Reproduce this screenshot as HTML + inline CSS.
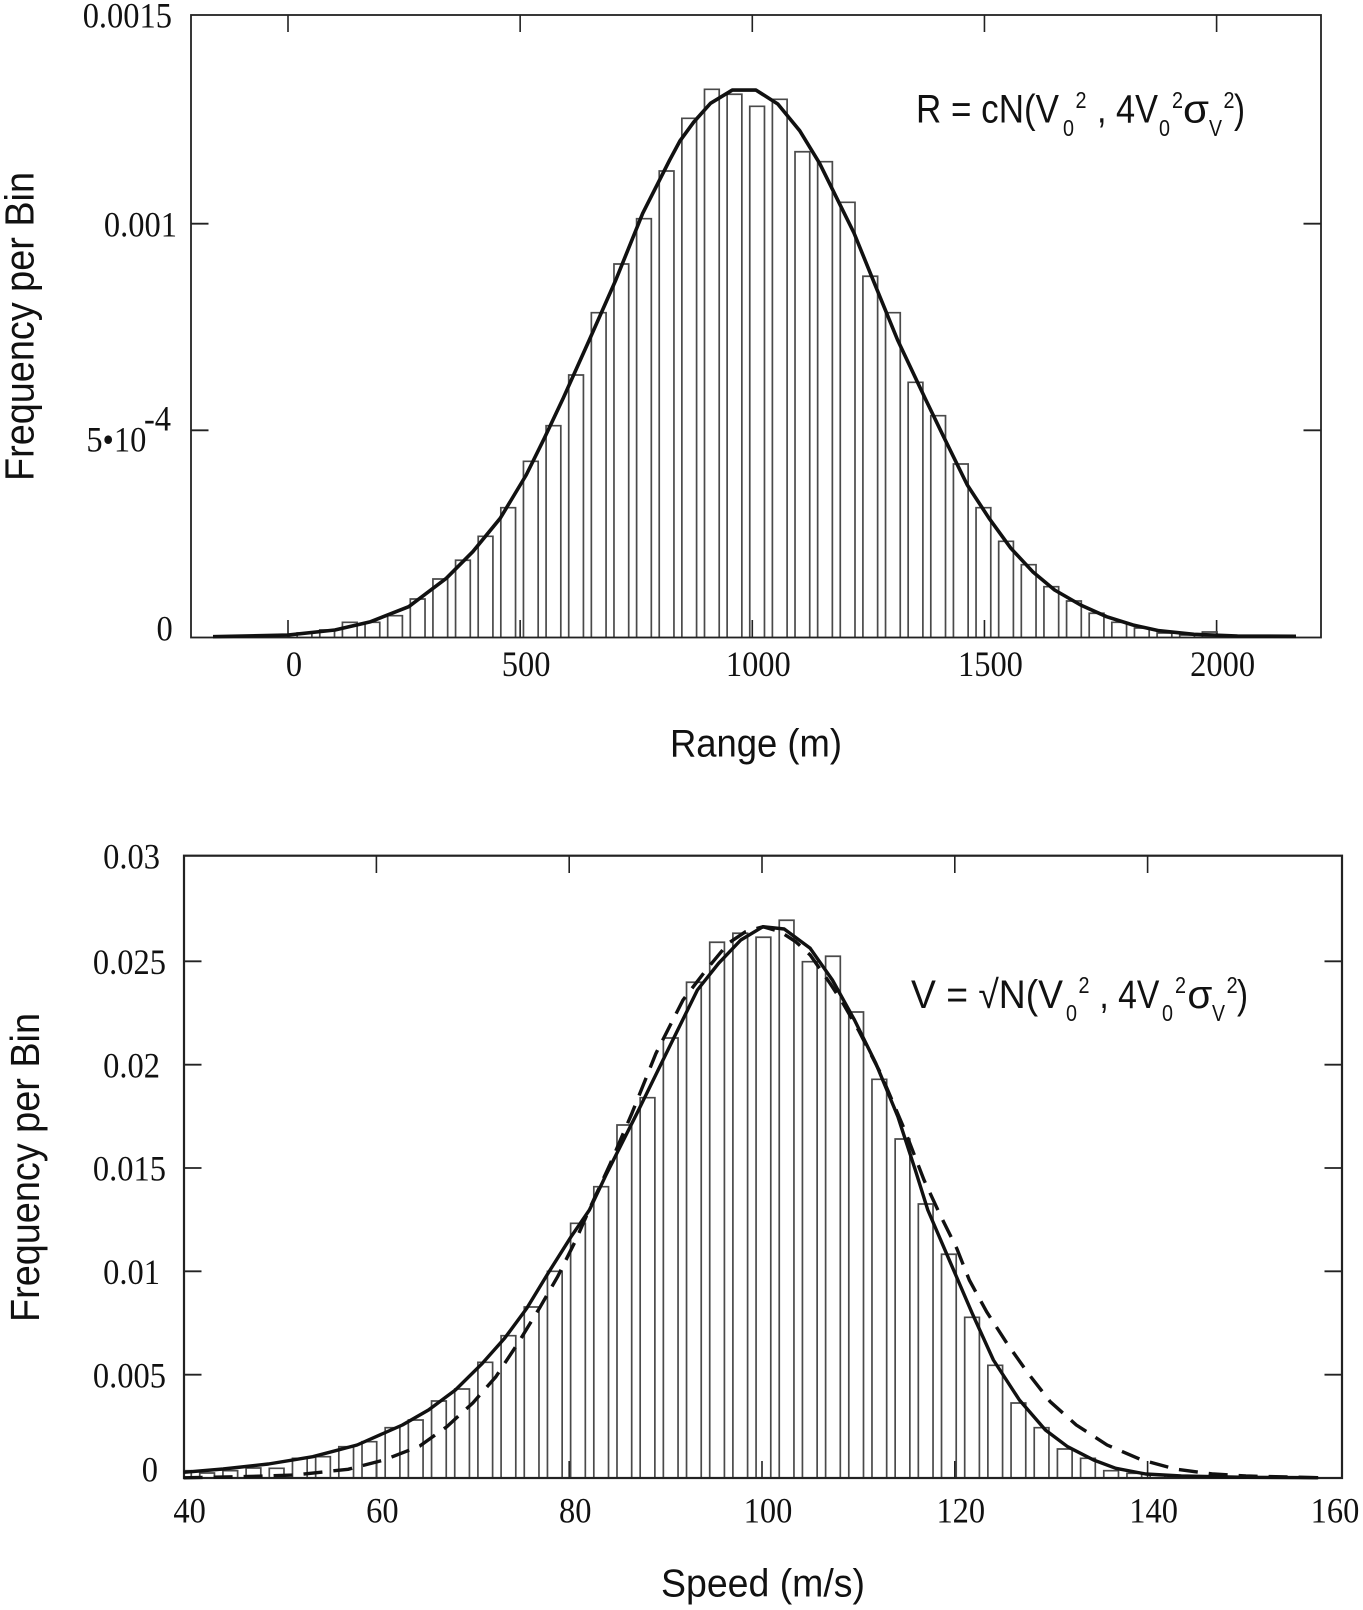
<!DOCTYPE html>
<html lang="en">
<head>
<meta charset="utf-8">
<title>Range and speed frequency histograms</title>
<style>
  html, body { margin: 0; padding: 0; background: #fff; }
  svg { display: block; }
  .tick-label { font-family: "Liberation Serif", serif; font-size: 35.5px; fill: #111; }
  .axis-title { font-family: "Liberation Sans", sans-serif; fill: #111; }
  .eq { font-family: "Liberation Sans", sans-serif; fill: #111; font-size: 39.5px; }
  .eq-small { font-family: "Liberation Sans", sans-serif; fill: #111; font-size: 23px; }
</style>
</head>
<body>
<svg id="figure" xmlns="http://www.w3.org/2000/svg" width="1363" height="1610" viewBox="0 0 1363 1610">
  <rect x="0" y="0" width="1363" height="1610" fill="#fff"/>
  <defs>
    <clipPath id="clip-range"><rect x="191" y="15" width="1130" height="622.5"/></clipPath>
    <clipPath id="clip-speed"><rect x="184" y="855.7" width="1158" height="622.5"/></clipPath>
  </defs>
  <g id="range-panel"></g>
  <g id="speed-panel"></g>

  <text class="axis-title" transform="translate(33.5 481) rotate(-90)" font-size="41" textLength="309" lengthAdjust="spacingAndGlyphs">Frequency per Bin</text>
  <text class="axis-title" x="670" y="756.7" font-size="38.5" textLength="172" lengthAdjust="spacingAndGlyphs">Range (m)</text>
  <text class="axis-title" transform="translate(39 1322) rotate(-90)" font-size="41" textLength="309" lengthAdjust="spacingAndGlyphs">Frequency per Bin</text>
  <text class="axis-title" x="661" y="1596.7" font-size="38.5" textLength="204" lengthAdjust="spacingAndGlyphs">Speed (m/s)</text>

  <g>
    <text class="eq" x="916" y="122.7" textLength="143" lengthAdjust="spacingAndGlyphs">R = cN(V</text>
    <text class="eq-small" x="1063" y="136" textLength="11" lengthAdjust="spacingAndGlyphs">0</text>
    <text class="eq-small" x="1075.5" y="108" textLength="11" lengthAdjust="spacingAndGlyphs">2</text>
    <text class="eq" x="1097" y="122.7" textLength="61" lengthAdjust="spacingAndGlyphs">, 4V</text>
    <text class="eq-small" x="1159" y="136" textLength="11" lengthAdjust="spacingAndGlyphs">0</text>
    <text class="eq-small" x="1172" y="108" textLength="11" lengthAdjust="spacingAndGlyphs">2</text>
    <text class="eq" x="1183" y="122.7" textLength="26" lengthAdjust="spacingAndGlyphs">σ</text>
    <text class="eq-small" x="1209" y="136" textLength="13" lengthAdjust="spacingAndGlyphs">V</text>
    <text class="eq-small" x="1223.5" y="108" textLength="11" lengthAdjust="spacingAndGlyphs">2</text>
    <text class="eq" x="1234" y="122.7" textLength="11" lengthAdjust="spacingAndGlyphs">)</text>
  </g>

  <g>
    <text class="eq" x="911" y="1008" textLength="152" lengthAdjust="spacingAndGlyphs">V = √N(V</text>
    <text class="eq-small" x="1066" y="1021" textLength="11" lengthAdjust="spacingAndGlyphs">0</text>
    <text class="eq-small" x="1078.5" y="993" textLength="11" lengthAdjust="spacingAndGlyphs">2</text>
    <text class="eq" x="1099.4" y="1008" textLength="60" lengthAdjust="spacingAndGlyphs">, 4V</text>
    <text class="eq-small" x="1162" y="1021" textLength="11" lengthAdjust="spacingAndGlyphs">0</text>
    <text class="eq-small" x="1175" y="993" textLength="11" lengthAdjust="spacingAndGlyphs">2</text>
    <text class="eq" x="1187.4" y="1008" textLength="25" lengthAdjust="spacingAndGlyphs">σ</text>
    <text class="eq-small" x="1212" y="1021" textLength="13" lengthAdjust="spacingAndGlyphs">V</text>
    <text class="eq-small" x="1226.6" y="993" textLength="11" lengthAdjust="spacingAndGlyphs">2</text>
    <text class="eq" x="1237" y="1008" textLength="11" lengthAdjust="spacingAndGlyphs">)</text>
  </g>
</svg>

<script>
// ---- Range chart data (frequency values in units of 1e-4 per bin) ----
const rangeBinFirst = -126.5;
const rangeBinStep = 48.74;
const rangeBinWidth = 31.7;
const rangeHist = [0.012,0.024,0.048,0.096,0.169,0.354,0.354,0.514,0.916,1.399,1.850,2.428,3.118,4.237,5.096,6.318,7.821,8.995,10.088,11.238,12.509,13.208,13.088,12.798,12.967,11.703,11.462,10.483,8.699,7.821,6.142,5.337,4.172,3.118,2.308,1.744,1.213,0.868,0.572,0.354,0.217,0.096,0.048,0.121,0.024,0.012];
const rangeCurveX = [-161.5,0,101,178,260,341,398,457,513,552,593,649,706,764,822,844,874,910,957,1008,1055,1102,1145,1191,1219,1266,1313,1374,1412,1463,1510,1557,1604,1651,1707,1763,1820,1876,1951,2045,2171];
const rangeCurveY = [0.007,0.048,0.169,0.369,0.731,1.416,2.057,2.863,3.907,4.792,5.764,7.162,8.609,10.218,11.503,11.962,12.42,12.87,13.19,13.19,12.854,12.21,11.424,10.377,9.743,8.448,7.162,5.715,4.831,3.666,2.863,2.139,1.575,1.133,0.772,0.49,0.289,0.152,0.065,0.024,0.017];
const rangeXTicks = [0,500,1000,1500,2000];
const rangeXTickLabels = ["0","500","1000","1500","2000"];
const rangeYTicks = [0,5,10,15];
const rangeYTickLabels = ["0","5•10","0.001","0.0015"];

// ---- Speed chart data (frequency values in units of 1e-3 per bin) ----
const speedBinFirst = 39.27;
const speedBinStep = 2.4046;
const speedBinWidth = 1.525;
const speedHist = [0.352,0.241,0.352,0.482,0.468,0.950,1.027,1.509,1.750,2.425,2.796,3.712,4.291,5.578,6.860,8.244,9.965,12.279,14.044,17.018,18.334,21.212,23.898,25.826,26.26,26.067,26.887,24.891,25.151,22.466,19.221,16.343,13.21,10.785,7.747,5.433,3.616,2.425,1.398,0.950,0.352,0.227,0.145,0.063,0.048,0.03];
const speedSolidX = [40,44.1,48.8,53.4,58.0,62.7,65.4,68.2,71.0,73.3,75.6,77.9,80.2,82.1,83.9,87.2,90.4,93.3,95.5,97.8,100.1,102.3,105.0,107.3,109.6,111.8,114.1,115.9,117.2,119.5,121.8,124.0,126.7,129.4,131.7,134.4,136.7,139.8,143.5,150.2,157.7];
const speedSolidY = [0.275,0.434,0.675,1.027,1.591,2.555,3.278,4.242,5.53,6.735,8.181,9.946,11.633,12.92,14.69,17.741,20.793,23.527,24.814,25.937,26.578,26.467,25.537,24.009,22.08,19.993,17.418,14.849,12.92,10.428,7.94,5.689,3.76,2.314,1.509,0.868,0.468,0.193,0.096,0.034,0.014];
const speedDashedX = [40,46,51.5,57.05,60.8,64.5,67.3,70.0,72.4,74.7,77.0,78.8,80.7,82.05,84.2,86.5,89.0,91.8,94.2,96.5,98.3,100.1,101.9,103.5,105.0,107.05,108.4,110.0,112.3,114.8,116.8,118.4,120.2,121.5,123.3,125.4,127.6,129.9,132.6,135.8,139.4,143.0,146.8,150.2,157.7];
const speedDashedY = [0.01,0.063,0.145,0.419,0.868,1.543,2.473,3.616,4.884,6.508,8.258,9.705,11.474,12.92,15.09,17.582,20.475,23.044,24.491,25.778,26.337,26.578,26.337,25.855,25.214,23.849,22.885,21.598,19.511,16.777,14.367,12.761,11.074,9.546,8.017,6.494,5.048,3.678,2.555,1.591,0.868,0.419,0.193,0.096,0.014];
const speedXTicks = [40,60,80,100,120,140,160];
const speedXTickLabels = ["40","60","80","100","120","140","160"];
const speedYTicks = [0,5,10,15,20,25,30];
const speedYTickLabels = ["0","0.005","0.01","0.015","0.02","0.025","0.03"];

// ---- Axis functions ----
const rangeX = v => 288 + v * 0.4643;
const rangeY = v => 637 - v / 15 * 622;
const rangeTickY = v => 637 - v / 15 * 620;
const speedX = v => 183.6 + (v - 40) * 9.64;
const speedY = v => 1478 - v / 30 * 622.3;
const speedTickY = v => 1478 - v / 30 * 620;

const NS = 'http://www.w3.org/2000/svg';
function make(parent, tag) {
  const el = document.createElementNS(NS, tag);
  parent.appendChild(el);
  return el;
}
function line(parent, name, x1, y1, x2, y2, w, color) {
  const el = make(parent, 'line');
  
  
  el.setAttribute('x1', x1);
  el.setAttribute('y1', y1);
  el.setAttribute('x2', x2);
  el.setAttribute('y2', y2);
  el.setAttribute('stroke', color);
  el.setAttribute('stroke-width', w);
  return el;
}
function label(parent, name, str, x, y, anchor) {
  const el = make(parent, 'text');
  
  
  el.setAttribute('class', 'tick-label');
  el.setAttribute('transform', 'translate(' + x + ' ' + y + ') scale(0.915 1)');
  el.setAttribute('text-anchor', anchor);
  el.textContent = str;
  return el;
}
function bars(parent, prefix, values, first, step, width, sx, sy, clip) {
  const g = make(parent, 'g');
  
  
  g.setAttribute('clip-path', 'url(#' + clip + ')');
  values.forEach((v, i) => {
    const left = sx(first + i * step);
    const right = sx(first + i * step + width);
    const el = make(g, 'path');
    
    
    el.setAttribute('d', 'M' + left + ' ' + sy(0) + 'V' + sy(v) + 'H' + right + 'V' + sy(0));
    el.setAttribute('fill', 'none');
    el.setAttribute('stroke', '#4a4a4a');
    el.setAttribute('stroke-width', '1.7');
  });
  return g;
}
function curve(parent, name, xs, ys, sx, sy, w, dash) {
  const el = make(parent, 'path');
  
  
  el.setAttribute('d', xs.map((x, i) => (i ? 'L' : 'M') + sx(x).toFixed(1) + ' ' + sy(ys[i]).toFixed(1)).join(''));
  el.setAttribute('fill', 'none');
  el.setAttribute('stroke', '#111');
  el.setAttribute('stroke-width', w);
  el.setAttribute('stroke-linejoin', 'round');
  if (dash) el.setAttribute('stroke-dasharray', dash);
  return el;
}
function frame(parent, name, l, t, r, b, w) {
  const el = make(parent, 'rect');
  
  
  el.setAttribute('x', l);
  el.setAttribute('y', t);
  el.setAttribute('width', r - l);
  el.setAttribute('height', b - t);
  el.setAttribute('fill', 'none');
  el.setAttribute('stroke', '#222');
  el.setAttribute('stroke-width', w);
  return el;
}

// ---- Range chart ----
const rangePanel = document.getElementById('range-panel');
rangeXTicks.forEach((t, i) => {
  const x = rangeX(t);
  line(rangePanel, 'range-x-tick-top', x, 15, x, 32, 1.6, '#222');
  line(rangePanel, 'range-x-tick-bottom', x, 620, x, 637, 1.6, '#222');
  label(rangePanel, 'range-x-tick-label', rangeXTickLabels[i], x + 6, 676, 'middle');
});
rangeYTicks.forEach((t, i) => {
  const y = rangeTickY(t);
  if (t > 0 && t < 15) {
    line(rangePanel, 'range-y-tick-left', 191, y, 208.5, y, 1.8, '#222');
    line(rangePanel, 'range-y-tick-right', 1303.5, y, 1321, y, 1.8, '#222');
  }
  const text = rangeYTickLabels[i];
  if (text === '5•10') {
    label(rangePanel, 'range-y-tick-label', text, 146.4, y + 21, 'end');
    label(rangePanel, 'range-y-tick-exponent', '-4', 171, y, 'end');
  } else if (t === 0) {
    label(rangePanel, 'range-y-tick-label', text, 172.8, y + 3.7, 'end');
  } else {
    label(rangePanel, 'range-y-tick-label', text, text.length === 6 ? 172 : 177, (t === 15 ? 15 : y) + 12.7, 'end');
  }
});
bars(rangePanel, 'range', rangeHist, rangeBinFirst, rangeBinStep, rangeBinWidth, rangeX, rangeY, 'clip-range');
frame(rangePanel, 'range-plot-frame', 191, 15, 1321, 637.5, 1.8);
curve(rangePanel, 'range-normal-curve', rangeCurveX, rangeCurveY, rangeX, rangeY, 3.6);

// ---- Speed chart ----
const speedPanel = document.getElementById('speed-panel');
speedXTicks.forEach((t, i) => {
  const x = speedX(t);
  if (t > 40 && t < 160) {
    line(speedPanel, 'speed-x-tick-top', x, 856, x, 873, 1.6, '#222');
    line(speedPanel, 'speed-x-tick-bottom', x, 1461, x, 1478, 1.6, '#222');
  }
  label(speedPanel, 'speed-x-tick-label', speedXTickLabels[i], Math.min(x + 6, 1335), 1522.7, 'middle');
});
speedYTicks.forEach((t, i) => {
  const y = speedTickY(t);
  if (t > 0 && t < 30) {
    line(speedPanel, 'speed-y-tick-left', 184, y, 201.5, y, 1.8, '#222');
    line(speedPanel, 'speed-y-tick-right', 1324.5, y, 1342, y, 1.8, '#222');
  }
  const text = speedYTickLabels[i];
  const right = text.length === 5 ? 166 : (text.length === 4 ? 160 : 158);
  label(speedPanel, 'speed-y-tick-label', text, right, (t === 30 ? 855.7 : y) + (t === 0 ? 3.7 : 12.6), 'end');
});
bars(speedPanel, 'speed', speedHist, speedBinFirst, speedBinStep, speedBinWidth, speedX, speedY, 'clip-speed');
frame(speedPanel, 'speed-plot-frame', 184, 855.7, 1342, 1478, 2.2);
curve(speedPanel, 'speed-dashed-curve', speedDashedX, speedDashedY, speedX, speedY, 3.4, '19 11');
curve(speedPanel, 'speed-solid-curve', speedSolidX, speedSolidY, speedX, speedY, 3.4);
</script>
</body>
</html>
